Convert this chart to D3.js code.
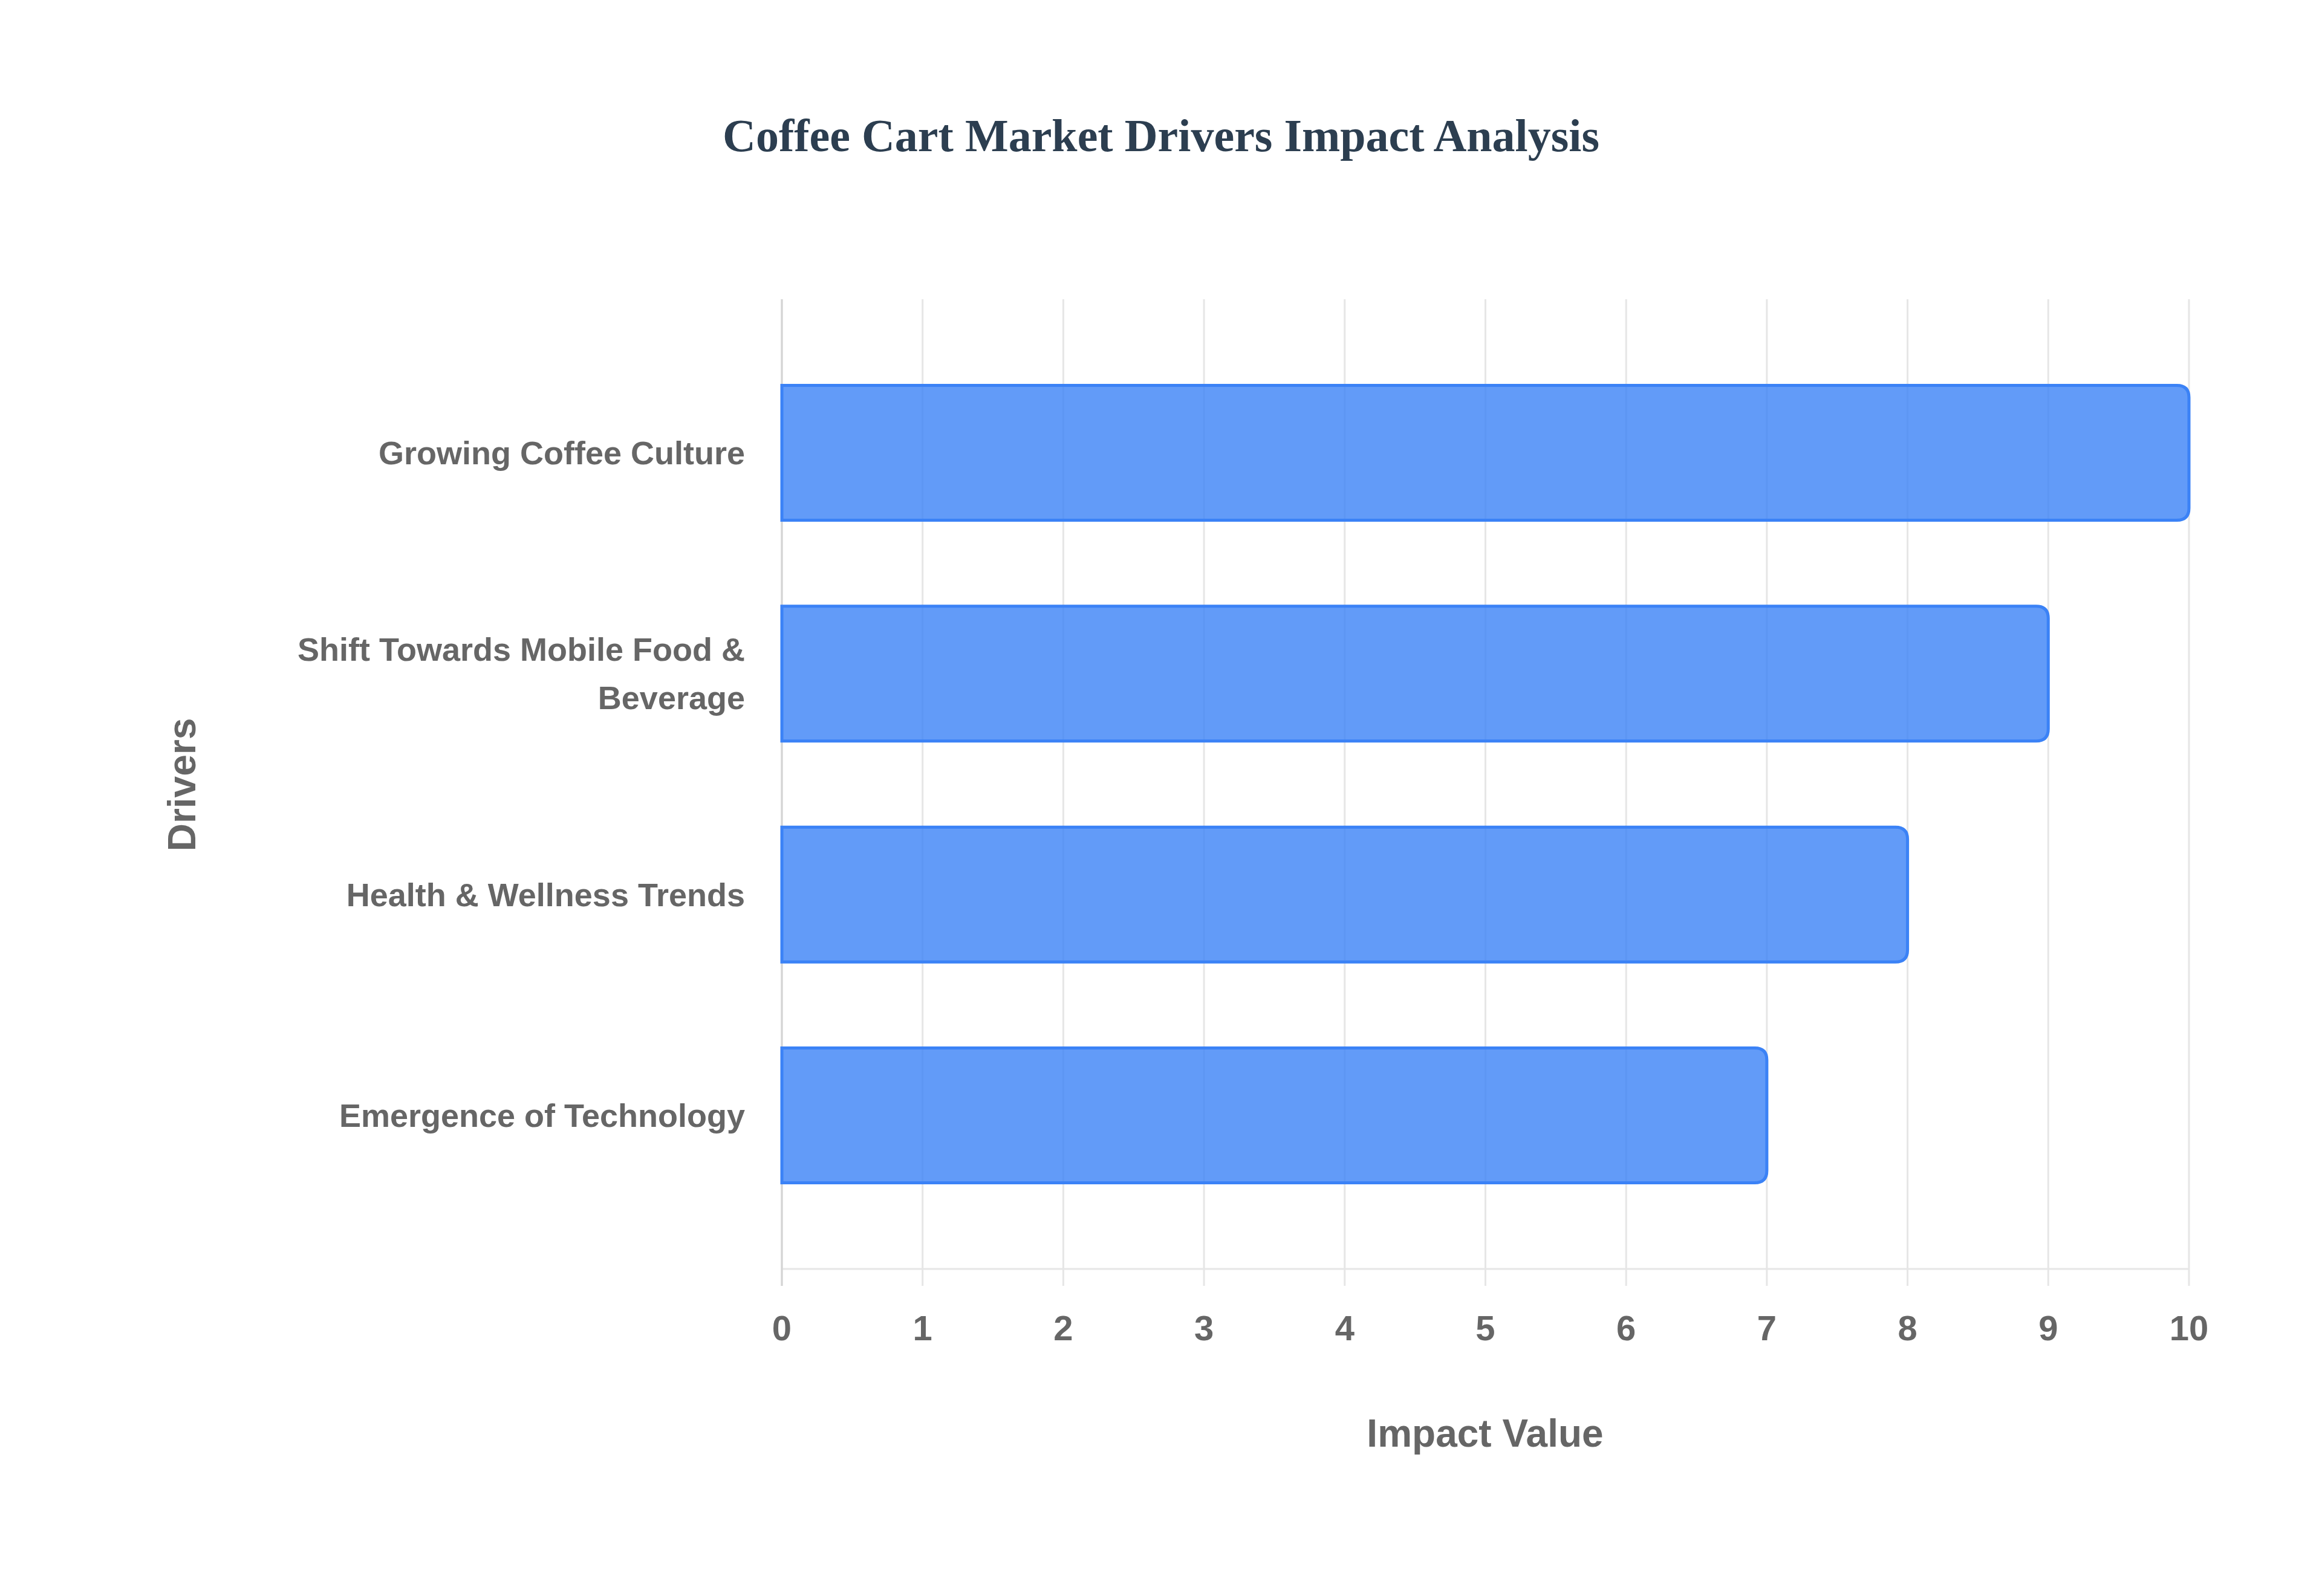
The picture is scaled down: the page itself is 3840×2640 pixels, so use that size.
<!DOCTYPE html>
<html>
<head>
<meta charset="utf-8">
<script src="https://cdn.jsdelivr.net/npm/d3@7"></script>
<style>
  body { margin: 0; background: #fff; }
</style>
</head>
<body>
<svg id="chart" width="3840" height="2640"></svg>
<script>
const drivers = ["Growing Coffee Culture", "Shift Towards Mobile Food & Beverage", "Health & Wellness Trends", "Emergence of Technology"];
const driverLines = [["Growing Coffee Culture"], ["Shift Towards Mobile Food &", "Beverage"], ["Health & Wellness Trends"], ["Emergence of Technology"]];
const impact = [10, 9, 8, 7];
const xTicks = [0, 1, 2, 3, 4, 5, 6, 7, 8, 9, 10];

const plotLeft = 1293, plotRight = 3620, plotTop = 495, plotBottom = 2099;
const svg = d3.select("#chart");

const x = d3.scaleLinear().domain([0, 10]).range([plotLeft, plotRight]);
const y = d3.scaleBand().domain(drivers).range([plotTop, plotBottom]).padding(0.39);

// title
svg.append("text")
  .attr("x", 1920).attr("y", 250)
  .attr("text-anchor", "middle")
  .attr("font-family", "Liberation Serif, Times New Roman, serif")
  .attr("font-weight", "bold")
  .attr("font-size", 76)
  .attr("fill", "#2c3e50")
  .text("Coffee Cart Market Drivers Impact Analysis");

// grid
svg.append("g")
  .selectAll("line")
  .data(xTicks)
  .join("line")
  .attr("x1", d => x(d)).attr("x2", d => x(d))
  .attr("y1", plotTop).attr("y2", plotBottom + 28)
  .attr("stroke", "#e6e6e6").attr("stroke-width", 3);

svg.append("line")
  .attr("x1", plotLeft).attr("x2", plotRight)
  .attr("y1", plotBottom).attr("y2", plotBottom)
  .attr("stroke", "#e6e6e6").attr("stroke-width", 3);
svg.append("line")
  .attr("x1", plotLeft).attr("x2", plotLeft)
  .attr("y1", plotTop).attr("y2", plotBottom + 28)
  .attr("stroke", "#d4d4d4").attr("stroke-width", 3);

// bars, rounded on the right end
const r = 20;
svg.append("g")
  .selectAll("path")
  .data(drivers)
  .join("path")
  .attr("d", (d, i) => {
    const x0 = x(0), x1 = x(impact[i]), y0 = y(d), h = y.bandwidth();
    return `M${x0},${y0} H${x1 - r} Q${x1},${y0} ${x1},${y0 + r} V${y0 + h - r} Q${x1},${y0 + h} ${x1 - r},${y0 + h} H${x0} Z`;
  })
  .attr("fill", "rgba(59,130,246,0.8)")
  .attr("stroke", "#3b82f6")
  .attr("stroke-width", 5);

// x tick labels
svg.append("g")
  .selectAll("text")
  .data(xTicks)
  .join("text")
  .attr("x", d => x(d)).attr("y", 2217)
  .attr("text-anchor", "middle")
  .attr("font-family", "Liberation Sans, Arial, sans-serif")
  .attr("font-weight", "bold")
  .attr("font-size", 58)
  .attr("fill", "#666")
  .text(d => d);

// category labels
const lab = svg.append("g")
  .selectAll("text")
  .data(drivers)
  .join("text")
  .attr("text-anchor", "end")
  .attr("font-family", "Liberation Sans, Arial, sans-serif")
  .attr("font-weight", "bold")
  .attr("font-size", 54)
  .attr("fill", "#666");
lab.each(function (d, i) {
  const lines = driverLines[i];
  const cy = y(d) + y.bandwidth() / 2;
  const lh = 80;
  d3.select(this).selectAll("tspan")
    .data(lines)
    .join("tspan")
    .attr("x", 1232)
    .attr("y", (l, j) => cy + 19 + (j - (lines.length - 1) / 2) * lh)
    .text(l => l);
});

// axis titles
svg.append("text")
  .attr("x", 2456).attr("y", 2393)
  .attr("text-anchor", "middle")
  .attr("font-family", "Liberation Sans, Arial, sans-serif")
  .attr("font-weight", "bold")
  .attr("font-size", 64)
  .attr("fill", "#666")
  .text("Impact Value");

svg.append("text")
  .attr("transform", "translate(323,1298) rotate(-90)")
  .attr("text-anchor", "middle")
  .attr("font-family", "Liberation Sans, Arial, sans-serif")
  .attr("font-weight", "bold")
  .attr("font-size", 64)
  .attr("fill", "#666")
  .text("Drivers");
</script>
</body>
</html>
